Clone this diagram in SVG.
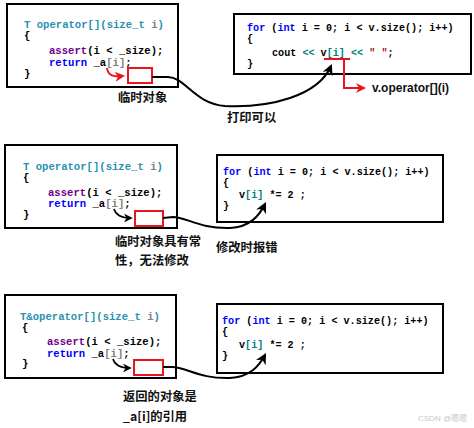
<svg xmlns="http://www.w3.org/2000/svg" width="474" height="428" viewBox="0 0 474 428">
<defs>
<style>
.box{fill:#fff;stroke:#000;stroke-width:2}
.tmp{fill:none;stroke:#e8161c;stroke-width:2}
.codeL{font-family:"Liberation Mono",monospace;font-weight:bold;font-size:10.6px;fill:#000}
.codeR{font-family:"Liberation Mono",monospace;font-weight:bold;font-size:10.15px;fill:#000}
.ty{fill:#2b91af}
.gr{fill:#808080}
.pu{fill:#6f008a}
.kw{fill:#0000ff}
.op{fill:#008080}
.st{fill:#a31515}
.lbl{font-family:"Noto Sans CJK SC","Liberation Sans",sans-serif;font-weight:bold;font-size:12.3px;fill:#111}
.lblR{font-family:"Liberation Sans",sans-serif;font-weight:bold;font-size:12px;fill:#111}
.curve{fill:none;stroke:#000;stroke-width:2;marker-end:url(#ah)}
.small{fill:none;stroke:#000;stroke-width:1.6;marker-end:url(#ah)}
.red{fill:none;stroke:#e8161c;stroke-width:2}
</style>
<marker id="ah" viewBox="0 0 10 10" refX="8" refY="5" markerWidth="5.5" markerHeight="5.5" orient="auto" markerUnits="strokeWidth">
<path d="M0,0 L10,5 L0,10 L3,5 Z" fill="#000"/>
</marker>
<marker id="ahr" viewBox="0 0 10 10" refX="8" refY="5" markerWidth="5" markerHeight="5" orient="auto" markerUnits="strokeWidth">
<path d="M0,0 L10,5 L0,10 L3,5 Z" fill="#e8161c"/>
</marker>
</defs>
<rect width="474" height="428" fill="#fff"/>

<g id="func1">
<rect class="box" x="7" y="4" width="171" height="83"/>
<text class="codeL" x="24" y="28"><tspan class="ty">T operator[](size_t </tspan><tspan class="gr">i</tspan><tspan class="ty">)</tspan></text>
<text class="codeL" x="24" y="39">{</text>
<text class="codeL" x="49" y="54"><tspan class="pu">assert</tspan>(i &lt; _size);</text>
<text class="codeL" x="49" y="66"><tspan class="kw">return</tspan> _a<tspan class="gr">[i]</tspan>;</text>
<text class="codeL" x="24" y="77">}</text>
<rect class="tmp" x="128" y="68" width="24" height="15"/>
</g>
<g id="use1">
<rect class="box" x="234" y="14" width="237" height="60"/>
<text class="codeR" x="247" y="31"><tspan class="kw">for</tspan> (<tspan class="kw">int</tspan> i = 0; i &lt; v.size(); i++)</text>
<text class="codeR" x="247" y="42">{</text>
<text class="codeR" x="272" y="56">cout <tspan class="op">&lt;&lt;</tspan> v<tspan class="op">[i]</tspan> <tspan class="op">&lt;&lt;</tspan> <tspan class="st">" "</tspan>;</text>
<text class="codeR" x="247" y="67">}</text>
</g>

<g id="func2">
<rect class="box" x="5" y="145" width="172" height="83"/>
<text class="codeL" x="23" y="170"><tspan class="ty">T operator[](size_t </tspan><tspan class="gr">i</tspan><tspan class="ty">)</tspan></text>
<text class="codeL" x="23" y="181">{</text>
<text class="codeL" x="48" y="196"><tspan class="pu">assert</tspan>(i &lt; _size);</text>
<text class="codeL" x="48" y="207"><tspan class="kw">return</tspan> _a<tspan class="gr">[i]</tspan>;</text>
<text class="codeL" x="23" y="218">}</text>
<rect class="tmp" x="135" y="211" width="28" height="15"/>
</g>
<g id="use2">
<rect class="box" x="217" y="155" width="226" height="67"/>
<text class="codeR" x="223" y="175"><tspan class="kw">for</tspan> (<tspan class="kw">int</tspan> i = 0; i &lt; v.size(); i++)</text>
<text class="codeR" x="223" y="186">{</text>
<text class="codeR" x="239" y="198">v<tspan class="op">[i]</tspan> *= 2 ;</text>
<text class="codeR" x="223" y="209">}</text>
</g>

<g id="func3">
<rect class="box" x="5" y="295" width="171" height="83"/>
<text class="codeL" x="20" y="320"><tspan class="ty">T&amp;operator[](size_t </tspan><tspan class="gr">i</tspan><tspan class="ty">)</tspan></text>
<text class="codeL" x="22" y="331">{</text>
<text class="codeL" x="47" y="345"><tspan class="pu">assert</tspan>(i &lt; _size);</text>
<text class="codeL" x="47" y="357"><tspan class="kw">return</tspan> _a<tspan class="gr">[i]</tspan>;</text>
<text class="codeL" x="22" y="367">}</text>
<rect class="tmp" x="134" y="360" width="29" height="15"/>
</g>
<g id="use3">
<rect class="box" x="217" y="304" width="226" height="69"/>
<text class="codeR" x="222" y="324"><tspan class="kw">for</tspan> (<tspan class="kw">int</tspan> i = 0; i &lt; v.size(); i++)</text>
<text class="codeR" x="222" y="335">{</text>
<text class="codeR" x="239" y="348">v<tspan class="op">[i]</tspan> *= 2 ;</text>
<text class="codeR" x="222" y="359">}</text>
</g>

<g id="connectors">
<path class="red" d="M107,68 C108,76 114,77 123,76" marker-end="url(#ahr)"/>
<path class="curve" d="M152,77 L168,77 C185,77 195,104 225,106 C270,108 318,96 331,66"/>
<path class="red" d="M324,59 L350,59 M344,59 L344,88 L362,88" />
<path class="red" d="M344,88 L364,88" marker-end="url(#ahr)"/>

<path class="small" d="M114,209 C116,216 122,218 131,218"/>
<path class="curve" d="M163,218 L173,217 C186,217 200,229 230,228 C250,227 259,216 265,204"/>

<path class="small" d="M113,359 C115,366 121,368 130,368"/>
<path class="curve" d="M163,367 L173,367 C188,368 200,379 230,378 C250,377 259,366 265,355"/>
</g>

<g id="labels">
<text class="lbl" x="118" y="102">临时对象</text>
<text class="lbl" x="227" y="122">打印可以</text>
<text class="lblR" x="372" y="92">v.operator[](i)</text>
<text class="lbl" x="115" y="246">临时对象具有常</text>
<text class="lbl" x="115" y="265">性，无法修改</text>
<text class="lbl" x="216" y="252">修改时报错</text>
<text class="lbl" x="123" y="401">返回的对象是</text>
<text class="lbl" x="123" y="421">_a[i]的引用</text>
<text x="418" y="421" font-family="'Liberation Sans','Noto Sans CJK SC',sans-serif" font-size="8" fill="#c8c8c8">CSDN @嗯嗯</text>
</g>
</svg>
